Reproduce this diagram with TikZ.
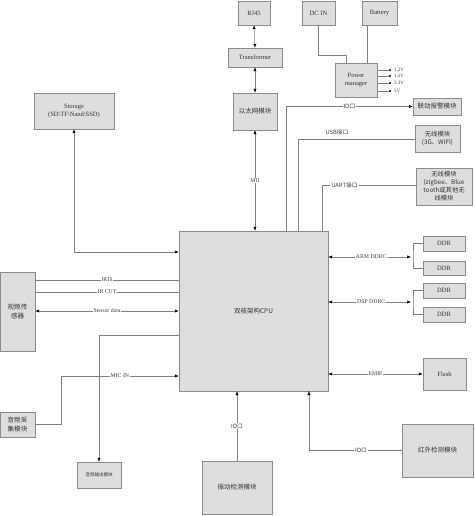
\documentclass[tikz,border=0pt]{standalone}
\usepackage{fontspec}
\setmainfont{Liberation Serif}
\newfontfamily\cjk{Noto Sans CJK SC}
\usetikzlibrary{arrows.meta}
\begin{document}
\begin{tikzpicture}[x=1pt,y=-1pt,
  box/.style={draw=black!45,fill=black!13,inner sep=0pt,align=center,font=\fontsize{6.5}{8}\selectfont,text=black!80},
  cbox/.style={box,font=\cjk\fontsize{6.5}{8.5}\selectfont},
  ln/.style={draw=black!50,line width=0.5pt},
  ar/.style={ln,-{Latex[length=4pt,width=3.2pt,color=black]}},
  dar/.style={ln,{Latex[length=4pt,width=3.2pt,color=black]}-{Latex[length=4pt,width=3.2pt,color=black]}},
  lab/.style={fill=white,inner sep=1pt,font=\fontsize{5.8}{7}\selectfont,text=black!75},
  clab/.style={lab,font=\cjk\fontsize{5.8}{7}\selectfont},
  dot/.style={circle,fill=black,inner sep=0pt,minimum size=2.4pt}]
\useasboundingbox (0,0) rectangle (474,516);
% top row
\node[box,minimum width=32,minimum height=24] (rj) at (254,13) {RJ45};
\node[box,minimum width=33,minimum height=24] (dc) at (318.5,13) {DC IN};
\node[box,minimum width=35,minimum height=24] (bat) at (379.5,13) {Battery};
\node[box,minimum width=54,minimum height=19] (tr) at (255,57.5) {Transformer};
\node[box,minimum width=42,minimum height=34] (pm) at (356,80) {Power\\manager};
\node[cbox,minimum width=44,minimum height=37] (eth) at (255,111.5) {以太网模块};
\node[cbox,minimum width=48,minimum height=17] (alarm) at (437,106.5) {联动报警模块};
\node[box,minimum width=45,minimum height=27,font=\cjk\fontsize{6.3}{8}\selectfont] (wifi) at (437.5,138.5) {无线模块\\(3G、WIFI)};
\node[box,minimum width=56,minimum height=37,font=\cjk\fontsize{6.3}{8}\selectfont] (zig) at (444,186.5) {无线模块\\(zigbee、Blue\\tooth或其他无\\线模块};
\node[box,minimum width=80,minimum height=36] (sto) at (74,111) {Storage\\(SD\textbackslash TF\textbackslash Nand\textbackslash SSD)};
% CPU
\node[cbox,minimum width=149,minimum height=160] (cpu) at (253.5,311) {双核架构CPU};
% left
\node[cbox,minimum width=35,minimum height=79] (sen) at (17.5,311.5) {视频传\\感器};
\node[cbox,minimum width=35,minimum height=25] (mic) at (17.5,424.5) {音频采\\集模块};
\node[box,minimum width=44,minimum height=26,font=\cjk\fontsize{4.5}{6}\selectfont] (aout) at (99,475) {音频输出模块};
% bottom
\node[cbox,minimum width=70,minimum height=53] (vib) at (237,487.5) {振动检测模块};
\node[cbox,minimum width=71,minimum height=53] (ir) at (437.5,450.5) {红外检测模块};
% right
\node[box,minimum width=42,minimum height=15] (d1) at (444,243.5) {DDR};
\node[box,minimum width=42,minimum height=14] (d2) at (444,268) {DDR};
\node[box,minimum width=42,minimum height=15] (d3) at (444,290.5) {DDR};
\node[box,minimum width=42,minimum height=15] (d4) at (444,314.5) {DDR};
\node[box,minimum width=43,minimum height=32] (fl) at (444.5,374) {Flash};

% ethernet chain
\draw[dar] (rj.south) -- (tr.north);
\draw[dar] (tr.south) -- (eth.north);
\draw[dar] (eth.south) -- node[lab]{MII} (eth.south |- cpu.north);
% power
\coordinate (dcb) at (318,25);
\coordinate (pmt1) at (346,63);
\coordinate (bb) at (367,25);
\coordinate (pmt2) at (367,63);
\draw[ln] (dcb) |- (346,55) -- (pmt1);
\draw[ln] (bb) -- (pmt2);
\foreach \y/\t/\n in {70/1.2V/a,76/1.5V/b,83/3.3V/c,91/5V/d}{
  \node[dot] (pd\n) at (390,\y) {};
  \draw[ln] (377,\y) -- (pd\n);
  \node[anchor=west,inner sep=0pt,font=\fontsize{5}{6}\selectfont,text=black!75] at (394,\y) {\t};
}
% top-right connections
\coordinate (c1) at (286,231);
\coordinate (c2) at (298,231);
\coordinate (c3) at (322,231);
\draw[ar] (c1) |- node[clab,pos=0.75]{IO口} (alarm.west);
\draw[ln] (c2) |- (wifi.west |- 0,139);
\node[clab,fill=none] at (337,132) {USB接口};
\draw[ln] (c3) |- node[clab,pos=0.62]{UART接口} (zig.west |- 0,185);
% storage
\draw[dar] (sto.south) |- (cpu.west |- 0,252);
% sensor
\draw[ln] (sen.east |- 0,280) -- node[lab]{IRIS} (cpu.west |- 0,280);
\draw[ln] (sen.east |- 0,292) -- node[lab]{IR CUT} (cpu.west |- 0,292);
\draw[dar] (sen.east |- 0,311) -- node[lab]{Sensor data} (cpu.west |- 0,311);
% audio
\draw[ar] (cpu.west |- 0,335) -| (aout.north);
\draw[ar] (mic.east) -| (61,376) -- node[lab]{MIC IN} (cpu.west |- 0,376);
% bottom
\draw[ar] (vib.north) -- node[clab]{IO口} (vib.north |- cpu.south);
\coordinate (c4) at (309,391);
\draw[ar] (ir.west) -| node[clab,pos=0.22]{IO口} (c4);
% right DDR
\coordinate (b1) at (413,257);
\coordinate (b2) at (413,302);
\draw[dar] (cpu.east |- b1) -- node[lab,pos=0.52]{ARM DDRC} ([xshift=-2]b1);
\draw[ln] (d1.west) -| (b1) |- (d2.west);
\draw[dar] (cpu.east |- b2) -- node[lab,pos=0.52]{DSP DDRC} ([xshift=-2]b2);
\draw[ln] (d3.west) -| (b2) |- (d4.west);
\draw[dar] (cpu.east |- fl.west) -- node[lab]{EMIF} (fl.west);
\end{tikzpicture}
\end{document}
